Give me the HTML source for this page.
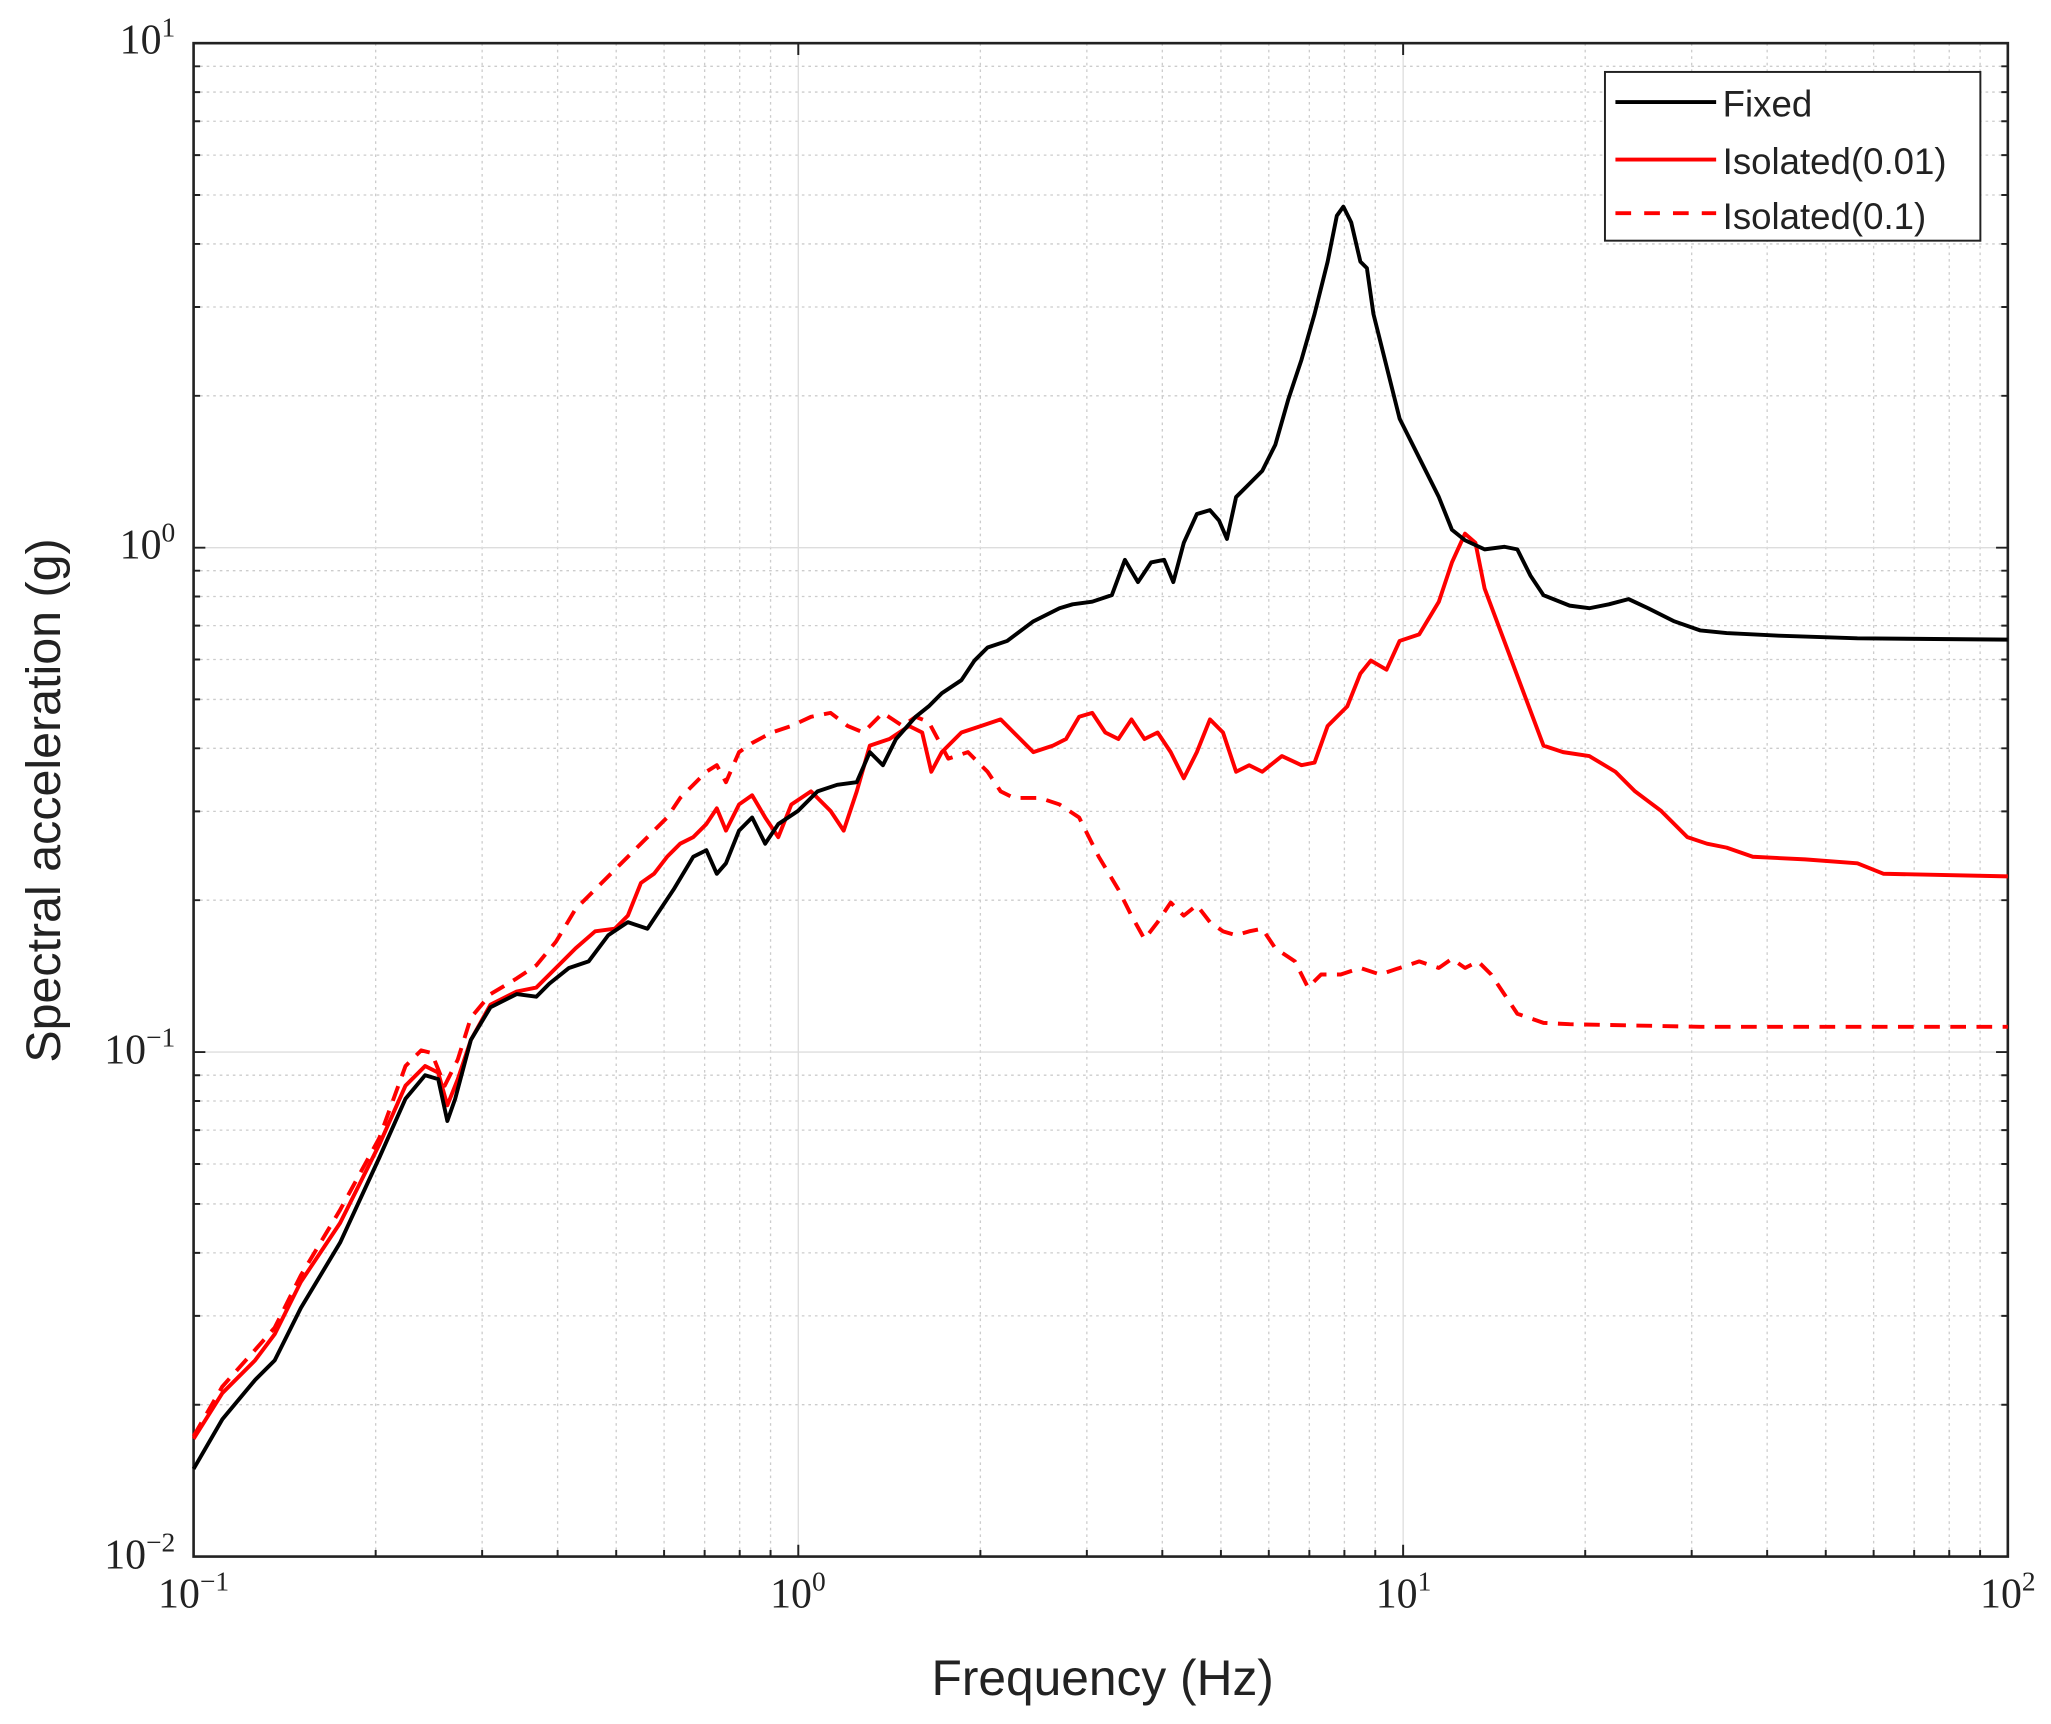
<!DOCTYPE html>
<html><head><meta charset="utf-8"><style>
html,body{margin:0;padding:0;background:#fff;width:2051px;height:1724px;overflow:hidden}
svg{display:block}
.tl{font-family:"Liberation Serif",serif;font-size:32px;fill:#222}
.sup{font-size:21px}
</style></head><body>
<svg width="2051" height="1724" viewBox="0 0 1568 1318" preserveAspectRatio="none" xmlns="http://www.w3.org/2000/svg">
<rect width="1568" height="1318" fill="#fff"/>
<g stroke="#ccc" stroke-width="1" stroke-dasharray="2,3" fill="none">
<path d="M287.2 33V1190M368.6 33V1190M426.3 33V1190M471.1 33V1190M507.7 33V1190M538.7 33V1190M565.5 33V1190M589.1 33V1190M749.5 33V1190M830.9 33V1190M888.6 33V1190M933.4 33V1190M970 33V1190M1001 33V1190M1027.8 33V1190M1051.4 33V1190M1211.9 33V1190M1293.3 33V1190M1351 33V1190M1395.8 33V1190M1432.4 33V1190M1463.4 33V1190M1490.2 33V1190M1513.8 33V1190"/>
<path d="M148 1073.9H1535M148 1006H1535M148 957.8H1535M148 920.4H1535M148 889.9H1535M148 864H1535M148 841.7H1535M148 822H1535M148 688.2H1535M148 620.3H1535M148 572.1H1535M148 534.7H1535M148 504.2H1535M148 478.3H1535M148 456H1535M148 436.3H1535M148 302.6H1535M148 234.7H1535M148 186.5H1535M148 149.1H1535M148 118.6H1535M148 92.7H1535M148 70.4H1535M148 50.7H1535"/>
</g>
<g stroke="#ddd" stroke-width="1" fill="none">
<path d="M610.3 33V1190M1072.7 33V1190M148 804.3H1535M148 418.7H1535"/>
</g>
<g stroke="#222" stroke-width="1.5" fill="none">
<path d="M287.2 1190v-5M368.6 1190v-5M426.3 1190v-5M471.1 1190v-5M507.7 1190v-5M538.7 1190v-5M565.5 1190v-5M589.1 1190v-5M749.5 1190v-5M830.9 1190v-5M888.6 1190v-5M933.4 1190v-5M970 1190v-5M1001 1190v-5M1027.8 1190v-5M1051.4 1190v-5M1211.9 1190v-5M1293.3 1190v-5M1351 1190v-5M1395.8 1190v-5M1432.4 1190v-5M1463.4 1190v-5M1490.2 1190v-5M1513.8 1190v-5M610.3 1190v-9M1072.7 1190v-9M610.3 33v9M1072.7 33v9"/>
<path d="M148 1073.9h5M148 1006h5M148 957.8h5M148 920.4h5M148 889.9h5M148 864h5M148 841.7h5M148 822h5M148 688.2h5M148 620.3h5M148 572.1h5M148 534.7h5M148 504.2h5M148 478.3h5M148 456h5M148 436.3h5M148 302.6h5M148 234.7h5M148 186.5h5M148 149.1h5M148 118.6h5M148 92.7h5M148 70.4h5M148 50.7h5M148 804.3h9M148 418.7h9"/>
<path d="M1535 1073.9h-5M1535 1006h-5M1535 957.8h-5M1535 920.4h-5M1535 889.9h-5M1535 864h-5M1535 841.7h-5M1535 822h-5M1535 688.2h-5M1535 620.3h-5M1535 572.1h-5M1535 534.7h-5M1535 504.2h-5M1535 478.3h-5M1535 456h-5M1535 436.3h-5M1535 302.6h-5M1535 234.7h-5M1535 186.5h-5M1535 149.1h-5M1535 118.6h-5M1535 92.7h-5M1535 70.4h-5M1535 50.7h-5M1535 804.3h-9M1535 418.7h-9"/>
<rect x="148" y="33" width="1387" height="1157" stroke-width="2"/>
</g>
<polyline fill="none" stroke="#f00" stroke-width="3" stroke-linejoin="round" stroke-dasharray="12,8" points="148,1098 170,1060 195,1032 210,1015 230,975 260,925 290,870 310,815 322,803 330,805 340,830 350,810 360,778 375,760 395,748 410,738 425,720 440,695 455,680 470,665 485,650 500,635 510,625 520,610 530,600 540,590 548,585 555,598 565,575 575,568 590,560 605,555 620,548 635,545 648,555 660,560 675,545 690,555 700,548 710,552 725,580 740,575 755,590 765,605 775,610 795,610 810,615 825,625 840,655 855,680 865,700 875,718 885,705 895,690 905,700 915,692 925,705 935,712 945,715 955,712 965,710 975,725 990,735 1000,755 1010,745 1025,745 1040,740 1055,745 1070,740 1085,735 1100,740 1110,733 1120,740 1130,735 1140,745 1150,760 1160,775 1180,782 1200,783 1300,785 1535,785"/>
<polyline fill="none" stroke="#f00" stroke-width="3" stroke-linejoin="round" points="148,1100 170,1065 195,1040 210,1020 230,980 260,935 290,875 310,830 325,815 335,820 342,845 350,825 360,795 375,768 395,758 410,755 425,740 440,725 455,712 470,710 480,700 490,675 500,668 510,655 520,645 530,640 540,630 548,618 555,635 565,615 575,608 585,625 595,640 605,615 620,605 635,620 645,635 655,605 665,570 680,565 695,555 705,560 712,590 720,575 735,560 750,555 765,550 775,560 790,575 805,570 815,565 825,548 835,545 845,560 855,565 865,550 875,565 885,560 895,575 905,595 915,575 925,550 935,560 945,590 955,585 965,590 980,578 995,585 1005,583 1015,555 1030,540 1040,515 1048,505 1060,512 1070,490 1085,485 1100,460 1110,430 1120,408 1128,415 1135,450 1150,490 1165,530 1180,570 1195,575 1215,578 1235,590 1250,605 1270,620 1290,640 1305,645 1320,648 1340,655 1380,657 1420,660 1440,668 1535,670"/>
<polyline fill="none" stroke="#000" stroke-width="3" stroke-linejoin="round" points="148,1123 170,1085 195,1055 210,1040 230,1000 260,950 290,885 310,840 325,822 335,825 342,857 348,840 360,795 375,770 395,760 410,762 420,752 435,740 450,735 465,715 480,705 495,710 505,695 515,680 530,655 540,650 548,668 555,660 565,635 575,625 585,645 595,630 610,620 625,605 640,600 655,598 665,575 675,585 685,565 700,548 710,540 720,530 735,520 745,505 755,495 770,490 790,475 810,465 820,462 835,460 850,455 860,428 870,445 880,430 890,428 897,445 905,415 915,393 925,390 932,398 938,412 945,380 955,370 965,360 975,340 985,305 995,275 1005,240 1015,200 1022,165 1027,158 1033,170 1040,200 1045,205 1050,240 1060,280 1070,320 1085,350 1100,380 1110,405 1120,413 1135,420 1150,418 1160,420 1170,440 1180,455 1200,463 1215,465 1230,462 1245,458 1260,465 1280,475 1300,482 1320,484 1360,486 1420,488 1535,489"/>
<rect x="1227" y="55" width="287" height="129" fill="#fff" stroke="#222" stroke-width="1.5"/>
<line x1="1235" y1="78" x2="1312" y2="78" stroke="#000" stroke-width="3"/>
<line x1="1235" y1="122" x2="1312" y2="122" stroke="#f00" stroke-width="3"/>
<line x1="1235" y1="163" x2="1312" y2="163" stroke="#f00" stroke-width="3" stroke-dasharray="12,10"/>
<g font-family="Liberation Sans, sans-serif" font-size="28" fill="#222">
<text x="1317" y="89">Fixed</text>
<text x="1317" y="133">Isolated(0.01)</text>
<text x="1317" y="175">Isolated(0.1)</text>
</g>
<g class="tl" text-anchor="end">
<text x="134" y="41">10<tspan class="sup" dy="-13">1</tspan></text>
<text x="134" y="427">10<tspan class="sup" dy="-13">0</tspan></text>
<text x="134" y="813">10<tspan class="sup" dy="-13">−1</tspan></text>
<text x="134" y="1199">10<tspan class="sup" dy="-13">−2</tspan></text>
</g>
<g class="tl" text-anchor="middle">
<text x="148" y="1229">10<tspan class="sup" dy="-13">−1</tspan></text>
<text x="610" y="1229">10<tspan class="sup" dy="-13">0</tspan></text>
<text x="1073" y="1229">10<tspan class="sup" dy="-13">1</tspan></text>
<text x="1535" y="1229">10<tspan class="sup" dy="-13">2</tspan></text>
</g>
<text x="843" y="1296" text-anchor="middle" font-family="Liberation Sans, sans-serif" font-size="38" fill="#222">Frequency (Hz)</text>
<text transform="translate(46,612) rotate(-90)" text-anchor="middle" font-family="Liberation Sans, sans-serif" font-size="37" fill="#222">Spectral acceleration (g)</text>
</svg>
</body></html>
